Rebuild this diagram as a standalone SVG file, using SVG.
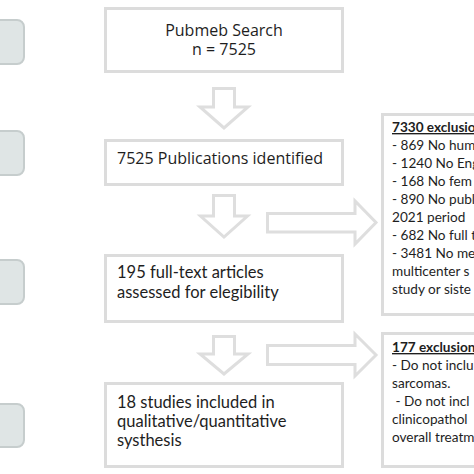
<svg xmlns="http://www.w3.org/2000/svg" width="474" height="474" viewBox="0 0 474 474">
<style>
.bg{fill:#ffffff}
.side{fill:#dfe5e5;stroke:#c6cdcd;stroke-width:2}
.box{fill:#ffffff;stroke:#dcdcdc;stroke-width:3}
.arr{fill:#ffffff;stroke:#dedede;stroke-width:3;stroke-linejoin:miter}
.t1{font-family:"Open Sans","Noto Sans",sans-serif;font-size:16px;fill:#1e1e1e}
.t2{font-family:Lato,"Liberation Sans",sans-serif;font-size:16.5px;fill:#1e1e1e}
.t3{font-family:Lato,"Liberation Sans",sans-serif;font-size:13.6px;fill:#1e1e1e}
.hd{font-weight:bold;text-decoration:underline}
</style>
<rect class="bg" x="0" y="0" width="474" height="474"/>
<g id="side-labels">
<rect class="side" x="-12" y="20" width="36" height="44" rx="7"/>
<rect class="side" x="-12" y="131" width="36" height="44" rx="7"/>
<rect class="side" x="-12" y="260" width="36" height="44" rx="7"/>
<rect class="side" x="-12" y="404" width="36" height="43" rx="7"/>
</g>
<g id="connectors">
<path class="arr" d="M213.5,88.5 H234.5 V107 H248 L224,128 L200,107 H213.5 Z"/>
<path class="arr" d="M213.5,195.5 H234.5 V216 H247.5 L224,237 L200.5,216 H213.5 Z"/>
<path class="arr" d="M213.5,336.5 H234.5 V354 H248 L224,374 L200,354 H213.5 Z"/>
<path class="arr" d="M267.5,213.5 H355 V201 L376,222.5 L355,244 V232 H267.5 Z"/>
<path class="arr" d="M267.5,345.5 H355 V334 L376,355 L355,376 V364.5 H267.5 Z"/>
</g>
<g id="n1">
<rect class="box" x="105.5" y="8.5" width="237" height="63"/>
<text class="t1" x="224" y="35.5" text-anchor="middle">Pubmeb Search</text>
<text class="t1" x="224" y="55" text-anchor="middle">n = 7525</text>
</g>
<g id="n2">
<rect class="box" x="105.5" y="140.5" width="237" height="44"/>
<text class="t1" x="117" y="164">7525 Publications identified</text>
</g>
<g id="n3">
<rect class="box" x="105.5" y="255.5" width="237" height="66"/>
<text class="t2" x="117" y="278">195 full-text articles</text>
<text class="t2" x="117" y="298">assessed for elegibility</text>
</g>
<g id="n4">
<rect class="box" x="105.5" y="383.5" width="237" height="83"/>
<text class="t2" x="117" y="408">18 studies included in</text>
<text class="t2" x="117" y="427">qualitative/quantitative</text>
<text class="t2" x="117" y="446">systhesis</text>
</g>
<g id="r1">
<rect class="box" x="382.5" y="114.5" width="110" height="200"/>
<text class="t3 hd" x="392" y="132">7330 exclusio</text>
<text class="t3" x="392" y="150">- 869 No hum</text>
<text class="t3" x="392" y="168">- 1240 No Eng</text>
<text class="t3" x="392" y="186">- 168 No fem</text>
<text class="t3" x="392" y="204">- 890 No publ</text>
<text class="t3" x="392" y="222">2021 period</text>
<text class="t3" x="392" y="240">- 682 No full t</text>
<text class="t3" x="392" y="258">- 3481 No me</text>
<text class="t3" x="392" y="276">multicenter s</text>
<text class="t3" x="392" y="294">study or siste</text>
</g>
<g id="r2">
<rect class="box" x="382.5" y="333.5" width="110" height="133"/>
<text class="t3 hd" x="392" y="352">177 exclusion</text>
<text class="t3" x="392" y="370">- Do not inclu</text>
<text class="t3" x="392" y="388">sarcomas.</text>
<text class="t3" x="392" y="406" xml:space="preserve"> - Do not incl</text>
<text class="t3" x="392" y="424">clinicopathol</text>
<text class="t3" x="392" y="442">overall treatm</text>
</g>
</svg>
